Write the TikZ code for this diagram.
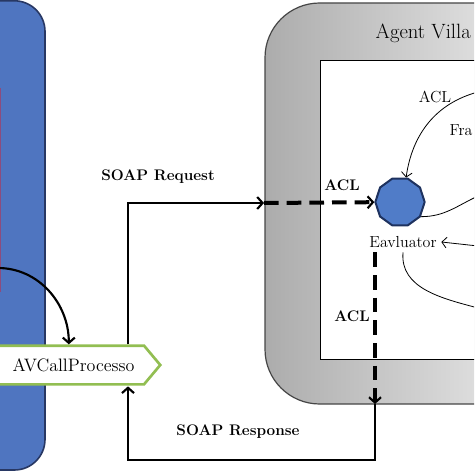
\documentclass[tikz,border=0pt]{standalone}
\usepackage{fontspec}
\usetikzlibrary{arrows.meta,shapes.geometric,shapes.symbols}
\definecolor{avblue}{RGB}{79,117,192}
\definecolor{avnavy}{RGB}{40,56,100}
\definecolor{evalblue}{RGB}{80,124,200}
\definecolor{evalnavy}{RGB}{30,50,95}
\definecolor{procgreen}{RGB}{146,190,82}
\definecolor{villadark}{RGB}{172,172,172}
\definecolor{villalight}{RGB}{240,240,240}
\definecolor{villaedge}{RGB}{70,70,70}
\begin{document}
\begin{tikzpicture}[x=0.75pt, y=-0.75pt,
    evalnode/.style={regular polygon, regular polygon sides=10, draw=evalnavy,
      line width=1.5pt, fill=evalblue, minimum size=37pt, inner sep=0pt},
    procbox/.style={signal, signal to=east, signal pointer angle=100,
      draw=procgreen, line width=2pt, fill=white, minimum width=130pt,
      minimum height=29pt, inner sep=0pt, font=\fontsize{13.5}{15}\selectfont},
    soaplbl/.style={font=\bfseries\fontsize{11.5}{13}\selectfont},
    thinlbl/.style={font=\fontsize{12}{14}\selectfont},
    bigarrow/.style={line width=1.6pt, -{Straight Barb[length=4pt,width=9pt]}},
    dasharrow/.style={line width=3pt, dash pattern=on 11pt off 6pt,
      -{Straight Barb[length=4pt,width=9pt,line width=1.6pt]}},
    thinline/.style={line width=0.6pt},
    thinarrow/.style={line width=0.6pt, -{Straight Barb[length=3.5pt,width=8pt]}}]
  \useasboundingbox (0,0) rectangle (474,474);
  \clip (0,0) rectangle (474,474);
  % caller side
  \draw[fill=avblue, draw=avnavy, line width=1.2pt, rounded corners=23pt]
    (-60,0.8) rectangle (45,470);
  \draw[red!35!avblue, line width=1pt] (0.5,88) -- (0.5,292);
  % agent village frame
  \draw[draw=villaedge, line width=0.9pt, left color=villadark,
    right color=villalight, rounded corners=41pt] (265,3) rectangle (560,404);
  \draw[fill=white, line width=0.7pt] (320,60) rectangle (560,359);
  \node[font=\fontsize{15.5}{17}\selectfont, anchor=west] (villalbl) at (371,33) {Agent Villa};

  % nodes
  \node[procbox, anchor=east] (proc) at (162,365) {\hspace*{12pt}AVCallProcesso};
  \node[evalnode] (eval) at (400,202) {};
  \node[thinlbl] (evallbl) at (403,242) {Eavluator};
  \node[thinlbl] (aclthin) at (435,97) {ACL};
  \node[thinlbl, anchor=west] (fralbl) at (445,130) {Fra};
  \node[soaplbl] (reqlbl) at (158,177) {SOAP Request};
  \node[soaplbl] (resplbl) at (238,432) {SOAP Response};
  \node[soaplbl] (acltop) at (342,185) {ACL};
  \node[soaplbl] (aclside) at (352,316) {ACL};

  % connectors
  \coordinate (blueout) at (-2,268);
  \coordinate (bend) at (128,203);
  \coordinate (villain) at (264,203);
  \coordinate (villaout) at (375,404);
  \coordinate (respfoot) at (375,460);
  \draw[bigarrow] (blueout) to[out=0, in=90] ([xshift=2.5pt]proc.north);
  \draw[bigarrow] (proc.north -| bend) -- (bend) -- (villain);
  \draw[dasharrow] (villain) -- (eval);
  \draw[dasharrow] (evallbl.south -| villaout) -- (villaout);
  \draw[bigarrow] (villaout) -- (respfoot) -| ([yshift=-0.5pt]proc.south -| bend);

  % framework side
  \coordinate (aclfrom) at (478,92);
  \coordinate (frameright) at (478,196);
  \coordinate (lblfrom) at (478,246);
  \coordinate (loopend) at (478,308);
  \draw[thinarrow] (aclfrom) to[out=195, in=82] (eval.76);
  \draw[thinline] (eval.-35) to[out=0, in=205] (frameright);
  \draw[thinarrow] (lblfrom) -- (evallbl.east);
  \draw[thinline] (evallbl.south) to[out=-95, in=165] (loopend);
\end{tikzpicture}
\end{document}
